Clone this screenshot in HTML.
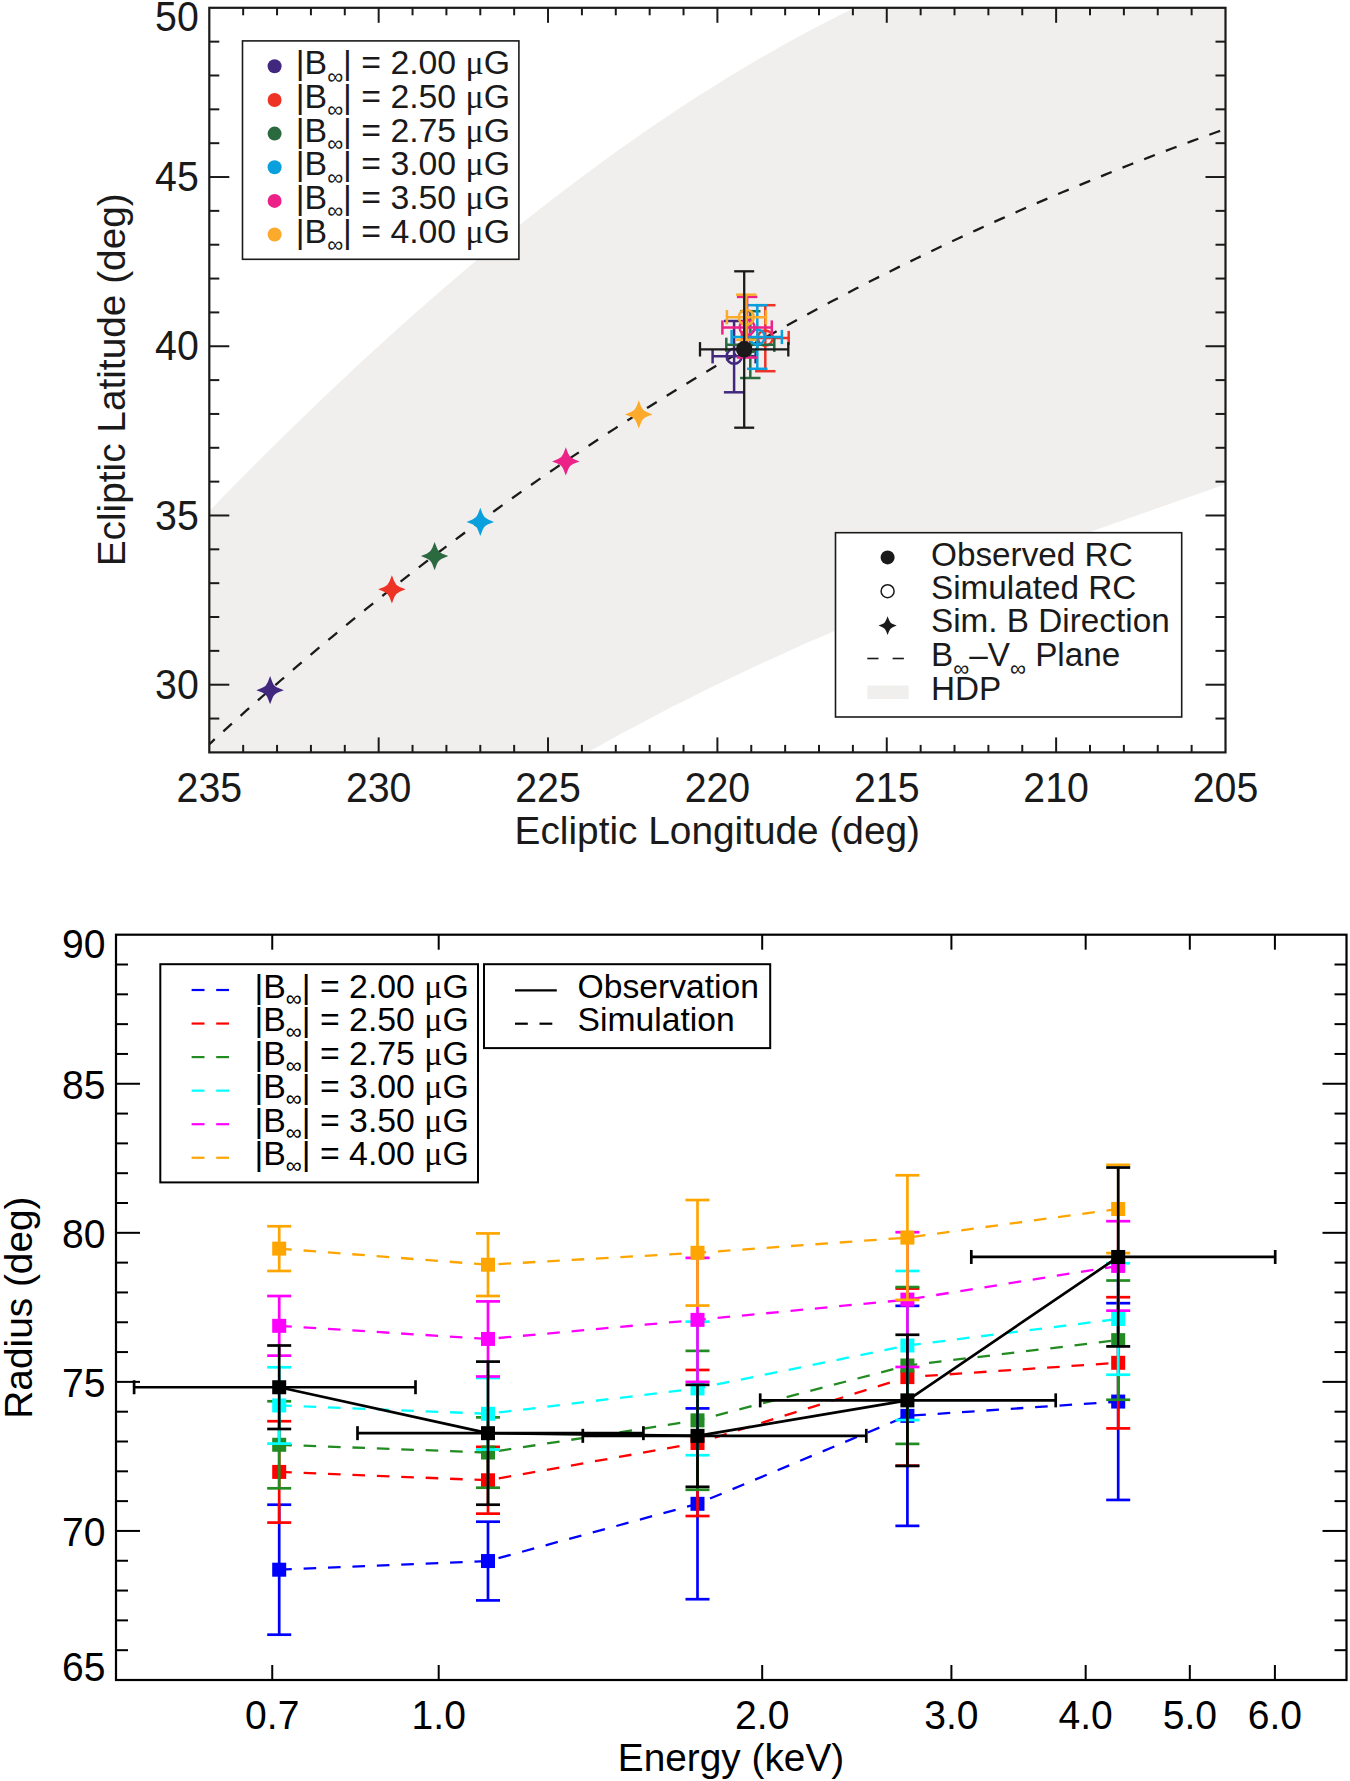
<!DOCTYPE html>
<html><head><meta charset="utf-8"><title>Figure</title>
<style>
html,body{margin:0;padding:0;background:#fff;}
svg{display:block;font-family:"Liberation Sans", sans-serif;}
</style></head><body>
<svg width="1350" height="1781" viewBox="0 0 1350 1781">
<rect width="1350" height="1781" fill="#fff"/>
<defs><clipPath id="c1"><rect x="209.3" y="7.8" width="1016.2" height="744.6"/></clipPath></defs><path d="M209.3,511.1 L221.0,499.0 L232.7,487.1 L244.4,475.2 L256.1,463.4 L267.8,451.8 L279.5,440.2 L291.2,428.7 L303.0,417.3 L314.7,406.0 L326.4,394.8 L338.1,383.7 L349.8,372.7 L361.5,361.8 L373.2,351.0 L384.9,340.4 L396.6,329.8 L408.3,319.3 L420.0,308.9 L431.7,298.7 L443.4,288.5 L455.1,278.4 L466.8,268.5 L478.6,258.7 L490.3,249.0 L502.0,239.4 L513.7,229.9 L525.4,220.5 L537.1,211.2 L548.8,202.1 L560.5,193.1 L572.2,184.2 L583.9,175.4 L595.6,166.7 L607.3,158.2 L619.0,149.7 L630.7,141.4 L642.5,133.3 L654.2,125.2 L665.9,117.3 L677.6,109.5 L689.3,101.8 L701.0,94.3 L712.7,86.9 L724.4,79.6 L736.1,72.5 L747.8,65.5 L759.5,58.6 L771.2,51.9 L782.9,45.3 L794.6,38.8 L806.3,32.5 L818.1,26.3 L829.8,20.2 L841.5,14.3 L853.2,8.6 L864.9,3.0 L876.6,-2.5 L888.3,-7.8 L900.0,-13.0 L1230.5,-20.0 L1230.5,482.4 L1219.1,486.4 L1207.8,490.4 L1196.4,494.4 L1185.0,498.4 L1173.7,502.4 L1162.3,506.4 L1150.9,510.4 L1139.6,514.4 L1128.2,518.4 L1116.9,522.4 L1105.5,526.5 L1094.1,530.5 L1082.8,534.6 L1071.4,538.7 L1060.0,542.8 L1048.7,547.0 L1037.3,551.1 L1025.9,555.3 L1014.6,559.5 L1003.2,563.7 L991.8,568.0 L980.5,572.3 L969.1,576.6 L957.8,581.0 L946.4,585.4 L935.0,589.8 L923.7,594.3 L912.3,598.8 L900.9,603.4 L889.6,608.0 L878.2,612.6 L866.8,617.3 L855.5,622.1 L844.1,626.9 L832.7,631.7 L821.4,636.7 L810.0,641.6 L798.7,646.6 L787.3,651.7 L775.9,656.9 L764.6,662.1 L753.2,667.3 L741.8,672.7 L730.5,678.1 L719.1,683.5 L707.7,689.1 L696.4,694.7 L685.0,700.4 L673.6,706.1 L662.3,712.0 L650.9,717.9 L639.6,723.9 L628.2,730.0 L616.8,736.1 L605.5,742.4 L594.1,748.7 L582.7,755.1 L571.4,761.6 L560.0,768.2 L209.3,782.4Z" fill="#f0efed" clip-path="url(#c1)"/><path d="M203.3,749.7 L211.9,741.8 L220.5,733.9 L229.1,726.1 L237.7,718.4 L246.2,710.7 L254.8,703.1 L263.4,695.5 L272.0,688.0 L280.6,680.5 L289.2,673.1 L297.8,665.7 L306.4,658.4 L315.0,651.1 L323.6,643.9 L332.1,636.8 L340.7,629.7 L349.3,622.6 L357.9,615.6 L366.5,608.7 L375.1,601.8 L383.7,594.9 L392.3,588.1 L400.9,581.4 L409.5,574.7 L418.0,568.0 L426.6,561.4 L435.2,554.8 L443.8,548.3 L452.4,541.9 L461.0,535.5 L469.6,529.1 L478.2,522.8 L486.8,516.5 L495.4,510.3 L503.9,504.1 L512.5,498.0 L521.1,491.9 L529.7,485.9 L538.3,479.9 L546.9,474.0 L555.5,468.1 L564.1,462.2 L572.7,456.4 L581.3,450.7 L589.8,445.0 L598.4,439.3 L607.0,433.7 L615.6,428.1 L624.2,422.5 L632.8,417.1 L641.4,411.6 L650.0,406.2 L658.6,400.8 L667.2,395.5 L675.7,390.2 L684.3,385.0 L692.9,379.8 L701.5,374.6 L710.1,369.5 L718.7,364.4 L727.3,359.4 L735.9,354.4 L744.5,349.5 L753.1,344.5 L761.6,339.7 L770.2,334.8 L778.8,330.0 L787.4,325.3 L796.0,320.6 L804.6,315.9 L813.2,311.2 L821.8,306.6 L830.4,302.1 L839.0,297.6 L847.5,293.1 L856.1,288.6 L864.7,284.2 L873.3,279.8 L881.9,275.5 L890.5,271.2 L899.1,266.9 L907.7,262.7 L916.3,258.5 L924.9,254.3 L933.4,250.2 L942.0,246.1 L950.6,242.0 L959.2,238.0 L967.8,234.0 L976.4,230.1 L985.0,226.1 L993.6,222.2 L1002.2,218.4 L1010.8,214.6 L1019.3,210.8 L1027.9,207.0 L1036.5,203.3 L1045.1,199.6 L1053.7,195.9 L1062.3,192.3 L1070.9,188.7 L1079.5,185.1 L1088.1,181.6 L1096.7,178.1 L1105.2,174.6 L1113.8,171.1 L1122.4,167.7 L1131.0,164.3 L1139.6,161.0 L1148.2,157.6 L1156.8,154.3 L1165.4,151.1 L1174.0,147.8 L1182.6,144.6 L1191.1,141.4 L1199.7,138.2 L1208.3,135.1 L1216.9,132.0 L1225.5,128.9" fill="none" stroke="#1a1a1a" stroke-width="2.3" stroke-dasharray="11.5 11.7" stroke-dashoffset="19.2" clip-path="url(#c1)"/><path d="M270.10,676.06 L272.43,682.22 Q273.98,686.32 277.92,687.87 L283.84,690.20 L277.92,692.53 Q273.98,694.08 272.43,698.18 L270.10,704.34 L267.77,698.18 Q266.22,694.08 262.28,692.53 L256.36,690.20 L262.28,687.87 Q266.22,686.32 267.77,682.22 L270.10,676.06Z" fill="#41287e"/><path d="M391.90,575.16 L394.23,581.32 Q395.78,585.42 399.72,586.97 L405.64,589.30 L399.72,591.63 Q395.78,593.18 394.23,597.28 L391.90,603.44 L389.57,597.28 Q388.02,593.18 384.08,591.63 L378.16,589.30 L384.08,586.97 Q388.02,585.42 389.57,581.32 L391.90,575.16Z" fill="#ee3226"/><path d="M434.60,541.96 L436.93,548.12 Q438.48,552.22 442.42,553.77 L448.34,556.10 L442.42,558.43 Q438.48,559.98 436.93,564.08 L434.60,570.24 L432.27,564.08 Q430.72,559.98 426.78,558.43 L420.86,556.10 L426.78,553.77 Q430.72,552.22 432.27,548.12 L434.60,541.96Z" fill="#2b6a3f"/><path d="M480.30,507.76 L482.63,513.92 Q484.18,518.02 488.12,519.57 L494.04,521.90 L488.12,524.23 Q484.18,525.78 482.63,529.88 L480.30,536.04 L477.97,529.88 Q476.42,525.78 472.48,524.23 L466.56,521.90 L472.48,519.57 Q476.42,518.02 477.97,513.92 L480.30,507.76Z" fill="#0a9fdd"/><path d="M565.80,447.26 L568.13,453.42 Q569.68,457.52 573.62,459.07 L579.54,461.40 L573.62,463.73 Q569.68,465.28 568.13,469.38 L565.80,475.54 L563.47,469.38 Q561.92,465.28 557.98,463.73 L552.06,461.40 L557.98,459.07 Q561.92,457.52 563.47,453.42 L565.80,447.26Z" fill="#ec2289"/><path d="M638.80,400.26 L641.13,406.42 Q642.68,410.52 646.62,412.07 L652.54,414.40 L646.62,416.73 Q642.68,418.28 641.13,422.38 L638.80,428.54 L636.47,422.38 Q634.92,418.28 630.98,416.73 L625.06,414.40 L630.98,412.07 Q634.92,410.52 636.47,406.42 L638.80,400.26Z" fill="#fcaa2b"/><line x1="712.60" y1="356.30" x2="755.60" y2="356.30" stroke="#41287e" stroke-width="2.5" /><line x1="712.60" y1="349.20" x2="712.60" y2="363.40" stroke="#41287e" stroke-width="2.5" /><line x1="755.60" y1="349.20" x2="755.60" y2="363.40" stroke="#41287e" stroke-width="2.5" /><line x1="734.10" y1="321.00" x2="734.10" y2="392.30" stroke="#41287e" stroke-width="2.5" /><line x1="723.90" y1="321.00" x2="744.30" y2="321.00" stroke="#41287e" stroke-width="2.5" /><line x1="723.90" y1="392.30" x2="744.30" y2="392.30" stroke="#41287e" stroke-width="2.5" /><circle cx="734.10" cy="356.30" r="7.5" fill="none" stroke="#41287e" stroke-width="2.5"/><line x1="741.90" y1="338.00" x2="788.70" y2="338.00" stroke="#ee3226" stroke-width="2.5" /><line x1="741.90" y1="330.90" x2="741.90" y2="345.10" stroke="#ee3226" stroke-width="2.5" /><line x1="788.70" y1="330.90" x2="788.70" y2="345.10" stroke="#ee3226" stroke-width="2.5" /><line x1="765.30" y1="305.20" x2="765.30" y2="371.20" stroke="#ee3226" stroke-width="2.5" /><line x1="755.10" y1="305.20" x2="775.50" y2="305.20" stroke="#ee3226" stroke-width="2.5" /><line x1="755.10" y1="371.20" x2="775.50" y2="371.20" stroke="#ee3226" stroke-width="2.5" /><circle cx="765.30" cy="338.00" r="7.5" fill="none" stroke="#ee3226" stroke-width="2.5"/><line x1="726.30" y1="344.80" x2="774.30" y2="344.80" stroke="#2b6a3f" stroke-width="2.5" /><line x1="726.30" y1="337.70" x2="726.30" y2="351.90" stroke="#2b6a3f" stroke-width="2.5" /><line x1="774.30" y1="337.70" x2="774.30" y2="351.90" stroke="#2b6a3f" stroke-width="2.5" /><line x1="750.30" y1="311.20" x2="750.30" y2="378.00" stroke="#2b6a3f" stroke-width="2.5" /><line x1="740.10" y1="311.20" x2="760.50" y2="311.20" stroke="#2b6a3f" stroke-width="2.5" /><line x1="740.10" y1="378.00" x2="760.50" y2="378.00" stroke="#2b6a3f" stroke-width="2.5" /><circle cx="750.30" cy="344.80" r="7.5" fill="none" stroke="#2b6a3f" stroke-width="2.5"/><line x1="731.60" y1="337.00" x2="781.90" y2="337.00" stroke="#0a9fdd" stroke-width="2.5" /><line x1="731.60" y1="329.90" x2="731.60" y2="344.10" stroke="#0a9fdd" stroke-width="2.5" /><line x1="781.90" y1="329.90" x2="781.90" y2="344.10" stroke="#0a9fdd" stroke-width="2.5" /><line x1="757.30" y1="305.20" x2="757.30" y2="368.80" stroke="#0a9fdd" stroke-width="2.5" /><line x1="747.10" y1="305.20" x2="767.50" y2="305.20" stroke="#0a9fdd" stroke-width="2.5" /><line x1="747.10" y1="368.80" x2="767.50" y2="368.80" stroke="#0a9fdd" stroke-width="2.5" /><circle cx="757.30" cy="337.00" r="7.5" fill="none" stroke="#0a9fdd" stroke-width="2.5"/><line x1="722.40" y1="327.50" x2="771.80" y2="327.50" stroke="#ec2289" stroke-width="2.5" /><line x1="722.40" y1="320.40" x2="722.40" y2="334.60" stroke="#ec2289" stroke-width="2.5" /><line x1="771.80" y1="320.40" x2="771.80" y2="334.60" stroke="#ec2289" stroke-width="2.5" /><line x1="747.10" y1="296.90" x2="747.10" y2="357.50" stroke="#ec2289" stroke-width="2.5" /><line x1="736.90" y1="296.90" x2="757.30" y2="296.90" stroke="#ec2289" stroke-width="2.5" /><line x1="736.90" y1="357.50" x2="757.30" y2="357.50" stroke="#ec2289" stroke-width="2.5" /><circle cx="747.10" cy="327.50" r="7.5" fill="none" stroke="#ec2289" stroke-width="2.5"/><line x1="726.90" y1="317.20" x2="765.90" y2="317.20" stroke="#fcaa2b" stroke-width="2.5" /><line x1="726.90" y1="310.10" x2="726.90" y2="324.30" stroke="#fcaa2b" stroke-width="2.5" /><line x1="765.90" y1="310.10" x2="765.90" y2="324.30" stroke="#fcaa2b" stroke-width="2.5" /><line x1="746.30" y1="294.70" x2="746.30" y2="339.80" stroke="#fcaa2b" stroke-width="2.5" /><line x1="736.10" y1="294.70" x2="756.50" y2="294.70" stroke="#fcaa2b" stroke-width="2.5" /><line x1="736.10" y1="339.80" x2="756.50" y2="339.80" stroke="#fcaa2b" stroke-width="2.5" /><circle cx="746.30" cy="317.20" r="7.5" fill="none" stroke="#fcaa2b" stroke-width="2.5"/><line x1="700.00" y1="349.30" x2="788.30" y2="349.30" stroke="#1a1a1a" stroke-width="2.3" /><line x1="700.00" y1="342.10" x2="700.00" y2="356.50" stroke="#1a1a1a" stroke-width="2.3" /><line x1="788.30" y1="342.10" x2="788.30" y2="356.50" stroke="#1a1a1a" stroke-width="2.3" /><line x1="744.20" y1="271.30" x2="744.20" y2="427.70" stroke="#1a1a1a" stroke-width="2.3" /><line x1="734.20" y1="271.30" x2="754.20" y2="271.30" stroke="#1a1a1a" stroke-width="2.3" /><line x1="734.20" y1="427.70" x2="754.20" y2="427.70" stroke="#1a1a1a" stroke-width="2.3" /><circle cx="744.2" cy="349.3" r="8.3" fill="#1a1a1a"/><rect x="209.3" y="7.8" width="1016.2" height="744.6" fill="none" stroke="#1a1a1a" stroke-width="2.2"/><line x1="209.30" y1="718.55" x2="219.30" y2="718.55" stroke="#1a1a1a" stroke-width="2" /><line x1="1225.50" y1="718.55" x2="1215.50" y2="718.55" stroke="#1a1a1a" stroke-width="2" /><line x1="209.30" y1="684.71" x2="229.30" y2="684.71" stroke="#1a1a1a" stroke-width="2" /><line x1="1225.50" y1="684.71" x2="1205.50" y2="684.71" stroke="#1a1a1a" stroke-width="2" /><line x1="209.30" y1="650.86" x2="219.30" y2="650.86" stroke="#1a1a1a" stroke-width="2" /><line x1="1225.50" y1="650.86" x2="1215.50" y2="650.86" stroke="#1a1a1a" stroke-width="2" /><line x1="209.30" y1="617.02" x2="219.30" y2="617.02" stroke="#1a1a1a" stroke-width="2" /><line x1="1225.50" y1="617.02" x2="1215.50" y2="617.02" stroke="#1a1a1a" stroke-width="2" /><line x1="209.30" y1="583.17" x2="219.30" y2="583.17" stroke="#1a1a1a" stroke-width="2" /><line x1="1225.50" y1="583.17" x2="1215.50" y2="583.17" stroke="#1a1a1a" stroke-width="2" /><line x1="209.30" y1="549.33" x2="219.30" y2="549.33" stroke="#1a1a1a" stroke-width="2" /><line x1="1225.50" y1="549.33" x2="1215.50" y2="549.33" stroke="#1a1a1a" stroke-width="2" /><line x1="209.30" y1="515.48" x2="229.30" y2="515.48" stroke="#1a1a1a" stroke-width="2" /><line x1="1225.50" y1="515.48" x2="1205.50" y2="515.48" stroke="#1a1a1a" stroke-width="2" /><line x1="209.30" y1="481.64" x2="219.30" y2="481.64" stroke="#1a1a1a" stroke-width="2" /><line x1="1225.50" y1="481.64" x2="1215.50" y2="481.64" stroke="#1a1a1a" stroke-width="2" /><line x1="209.30" y1="447.79" x2="219.30" y2="447.79" stroke="#1a1a1a" stroke-width="2" /><line x1="1225.50" y1="447.79" x2="1215.50" y2="447.79" stroke="#1a1a1a" stroke-width="2" /><line x1="209.30" y1="413.95" x2="219.30" y2="413.95" stroke="#1a1a1a" stroke-width="2" /><line x1="1225.50" y1="413.95" x2="1215.50" y2="413.95" stroke="#1a1a1a" stroke-width="2" /><line x1="209.30" y1="380.10" x2="219.30" y2="380.10" stroke="#1a1a1a" stroke-width="2" /><line x1="1225.50" y1="380.10" x2="1215.50" y2="380.10" stroke="#1a1a1a" stroke-width="2" /><line x1="209.30" y1="346.25" x2="229.30" y2="346.25" stroke="#1a1a1a" stroke-width="2" /><line x1="1225.50" y1="346.25" x2="1205.50" y2="346.25" stroke="#1a1a1a" stroke-width="2" /><line x1="209.30" y1="312.41" x2="219.30" y2="312.41" stroke="#1a1a1a" stroke-width="2" /><line x1="1225.50" y1="312.41" x2="1215.50" y2="312.41" stroke="#1a1a1a" stroke-width="2" /><line x1="209.30" y1="278.56" x2="219.30" y2="278.56" stroke="#1a1a1a" stroke-width="2" /><line x1="1225.50" y1="278.56" x2="1215.50" y2="278.56" stroke="#1a1a1a" stroke-width="2" /><line x1="209.30" y1="244.72" x2="219.30" y2="244.72" stroke="#1a1a1a" stroke-width="2" /><line x1="1225.50" y1="244.72" x2="1215.50" y2="244.72" stroke="#1a1a1a" stroke-width="2" /><line x1="209.30" y1="210.87" x2="219.30" y2="210.87" stroke="#1a1a1a" stroke-width="2" /><line x1="1225.50" y1="210.87" x2="1215.50" y2="210.87" stroke="#1a1a1a" stroke-width="2" /><line x1="209.30" y1="177.03" x2="229.30" y2="177.03" stroke="#1a1a1a" stroke-width="2" /><line x1="1225.50" y1="177.03" x2="1205.50" y2="177.03" stroke="#1a1a1a" stroke-width="2" /><line x1="209.30" y1="143.18" x2="219.30" y2="143.18" stroke="#1a1a1a" stroke-width="2" /><line x1="1225.50" y1="143.18" x2="1215.50" y2="143.18" stroke="#1a1a1a" stroke-width="2" /><line x1="209.30" y1="109.34" x2="219.30" y2="109.34" stroke="#1a1a1a" stroke-width="2" /><line x1="1225.50" y1="109.34" x2="1215.50" y2="109.34" stroke="#1a1a1a" stroke-width="2" /><line x1="209.30" y1="75.49" x2="219.30" y2="75.49" stroke="#1a1a1a" stroke-width="2" /><line x1="1225.50" y1="75.49" x2="1215.50" y2="75.49" stroke="#1a1a1a" stroke-width="2" /><line x1="209.30" y1="41.65" x2="219.30" y2="41.65" stroke="#1a1a1a" stroke-width="2" /><line x1="1225.50" y1="41.65" x2="1215.50" y2="41.65" stroke="#1a1a1a" stroke-width="2" /><line x1="1191.63" y1="7.80" x2="1191.63" y2="15.30" stroke="#1a1a1a" stroke-width="2" /><line x1="1191.63" y1="752.40" x2="1191.63" y2="744.90" stroke="#1a1a1a" stroke-width="2" /><line x1="1157.75" y1="7.80" x2="1157.75" y2="15.30" stroke="#1a1a1a" stroke-width="2" /><line x1="1157.75" y1="752.40" x2="1157.75" y2="744.90" stroke="#1a1a1a" stroke-width="2" /><line x1="1123.88" y1="7.80" x2="1123.88" y2="15.30" stroke="#1a1a1a" stroke-width="2" /><line x1="1123.88" y1="752.40" x2="1123.88" y2="744.90" stroke="#1a1a1a" stroke-width="2" /><line x1="1090.01" y1="7.80" x2="1090.01" y2="15.30" stroke="#1a1a1a" stroke-width="2" /><line x1="1090.01" y1="752.40" x2="1090.01" y2="744.90" stroke="#1a1a1a" stroke-width="2" /><line x1="1056.13" y1="7.80" x2="1056.13" y2="22.80" stroke="#1a1a1a" stroke-width="2" /><line x1="1056.13" y1="752.40" x2="1056.13" y2="737.40" stroke="#1a1a1a" stroke-width="2" /><line x1="1022.26" y1="7.80" x2="1022.26" y2="15.30" stroke="#1a1a1a" stroke-width="2" /><line x1="1022.26" y1="752.40" x2="1022.26" y2="744.90" stroke="#1a1a1a" stroke-width="2" /><line x1="988.39" y1="7.80" x2="988.39" y2="15.30" stroke="#1a1a1a" stroke-width="2" /><line x1="988.39" y1="752.40" x2="988.39" y2="744.90" stroke="#1a1a1a" stroke-width="2" /><line x1="954.51" y1="7.80" x2="954.51" y2="15.30" stroke="#1a1a1a" stroke-width="2" /><line x1="954.51" y1="752.40" x2="954.51" y2="744.90" stroke="#1a1a1a" stroke-width="2" /><line x1="920.64" y1="7.80" x2="920.64" y2="15.30" stroke="#1a1a1a" stroke-width="2" /><line x1="920.64" y1="752.40" x2="920.64" y2="744.90" stroke="#1a1a1a" stroke-width="2" /><line x1="886.77" y1="7.80" x2="886.77" y2="22.80" stroke="#1a1a1a" stroke-width="2" /><line x1="886.77" y1="752.40" x2="886.77" y2="737.40" stroke="#1a1a1a" stroke-width="2" /><line x1="852.89" y1="7.80" x2="852.89" y2="15.30" stroke="#1a1a1a" stroke-width="2" /><line x1="852.89" y1="752.40" x2="852.89" y2="744.90" stroke="#1a1a1a" stroke-width="2" /><line x1="819.02" y1="7.80" x2="819.02" y2="15.30" stroke="#1a1a1a" stroke-width="2" /><line x1="819.02" y1="752.40" x2="819.02" y2="744.90" stroke="#1a1a1a" stroke-width="2" /><line x1="785.15" y1="7.80" x2="785.15" y2="15.30" stroke="#1a1a1a" stroke-width="2" /><line x1="785.15" y1="752.40" x2="785.15" y2="744.90" stroke="#1a1a1a" stroke-width="2" /><line x1="751.27" y1="7.80" x2="751.27" y2="15.30" stroke="#1a1a1a" stroke-width="2" /><line x1="751.27" y1="752.40" x2="751.27" y2="744.90" stroke="#1a1a1a" stroke-width="2" /><line x1="717.40" y1="7.80" x2="717.40" y2="22.80" stroke="#1a1a1a" stroke-width="2" /><line x1="717.40" y1="752.40" x2="717.40" y2="737.40" stroke="#1a1a1a" stroke-width="2" /><line x1="683.53" y1="7.80" x2="683.53" y2="15.30" stroke="#1a1a1a" stroke-width="2" /><line x1="683.53" y1="752.40" x2="683.53" y2="744.90" stroke="#1a1a1a" stroke-width="2" /><line x1="649.65" y1="7.80" x2="649.65" y2="15.30" stroke="#1a1a1a" stroke-width="2" /><line x1="649.65" y1="752.40" x2="649.65" y2="744.90" stroke="#1a1a1a" stroke-width="2" /><line x1="615.78" y1="7.80" x2="615.78" y2="15.30" stroke="#1a1a1a" stroke-width="2" /><line x1="615.78" y1="752.40" x2="615.78" y2="744.90" stroke="#1a1a1a" stroke-width="2" /><line x1="581.91" y1="7.80" x2="581.91" y2="15.30" stroke="#1a1a1a" stroke-width="2" /><line x1="581.91" y1="752.40" x2="581.91" y2="744.90" stroke="#1a1a1a" stroke-width="2" /><line x1="548.03" y1="7.80" x2="548.03" y2="22.80" stroke="#1a1a1a" stroke-width="2" /><line x1="548.03" y1="752.40" x2="548.03" y2="737.40" stroke="#1a1a1a" stroke-width="2" /><line x1="514.16" y1="7.80" x2="514.16" y2="15.30" stroke="#1a1a1a" stroke-width="2" /><line x1="514.16" y1="752.40" x2="514.16" y2="744.90" stroke="#1a1a1a" stroke-width="2" /><line x1="480.29" y1="7.80" x2="480.29" y2="15.30" stroke="#1a1a1a" stroke-width="2" /><line x1="480.29" y1="752.40" x2="480.29" y2="744.90" stroke="#1a1a1a" stroke-width="2" /><line x1="446.41" y1="7.80" x2="446.41" y2="15.30" stroke="#1a1a1a" stroke-width="2" /><line x1="446.41" y1="752.40" x2="446.41" y2="744.90" stroke="#1a1a1a" stroke-width="2" /><line x1="412.54" y1="7.80" x2="412.54" y2="15.30" stroke="#1a1a1a" stroke-width="2" /><line x1="412.54" y1="752.40" x2="412.54" y2="744.90" stroke="#1a1a1a" stroke-width="2" /><line x1="378.67" y1="7.80" x2="378.67" y2="22.80" stroke="#1a1a1a" stroke-width="2" /><line x1="378.67" y1="752.40" x2="378.67" y2="737.40" stroke="#1a1a1a" stroke-width="2" /><line x1="344.79" y1="7.80" x2="344.79" y2="15.30" stroke="#1a1a1a" stroke-width="2" /><line x1="344.79" y1="752.40" x2="344.79" y2="744.90" stroke="#1a1a1a" stroke-width="2" /><line x1="310.92" y1="7.80" x2="310.92" y2="15.30" stroke="#1a1a1a" stroke-width="2" /><line x1="310.92" y1="752.40" x2="310.92" y2="744.90" stroke="#1a1a1a" stroke-width="2" /><line x1="277.05" y1="7.80" x2="277.05" y2="15.30" stroke="#1a1a1a" stroke-width="2" /><line x1="277.05" y1="752.40" x2="277.05" y2="744.90" stroke="#1a1a1a" stroke-width="2" /><line x1="243.17" y1="7.80" x2="243.17" y2="15.30" stroke="#1a1a1a" stroke-width="2" /><line x1="243.17" y1="752.40" x2="243.17" y2="744.90" stroke="#1a1a1a" stroke-width="2" /><text transform="translate(198.80,698.81) scale(0.94,1)" font-size="41.8" text-anchor="end" fill="#1a1a1a" >30</text><text transform="translate(198.80,529.58) scale(0.94,1)" font-size="41.8" text-anchor="end" fill="#1a1a1a" >35</text><text transform="translate(198.80,360.35) scale(0.94,1)" font-size="41.8" text-anchor="end" fill="#1a1a1a" >40</text><text transform="translate(198.80,191.13) scale(0.94,1)" font-size="41.8" text-anchor="end" fill="#1a1a1a" >45</text><text transform="translate(198.80,30.90) scale(0.94,1)" font-size="41.8" text-anchor="end" fill="#1a1a1a" >50</text><text transform="translate(1225.50,802.00) scale(0.94,1)" font-size="41.8" text-anchor="middle" fill="#1a1a1a" >205</text><text transform="translate(1056.13,802.00) scale(0.94,1)" font-size="41.8" text-anchor="middle" fill="#1a1a1a" >210</text><text transform="translate(886.77,802.00) scale(0.94,1)" font-size="41.8" text-anchor="middle" fill="#1a1a1a" >215</text><text transform="translate(717.40,802.00) scale(0.94,1)" font-size="41.8" text-anchor="middle" fill="#1a1a1a" >220</text><text transform="translate(548.03,802.00) scale(0.94,1)" font-size="41.8" text-anchor="middle" fill="#1a1a1a" >225</text><text transform="translate(378.67,802.00) scale(0.94,1)" font-size="41.8" text-anchor="middle" fill="#1a1a1a" >230</text><text transform="translate(209.30,802.00) scale(0.94,1)" font-size="41.8" text-anchor="middle" fill="#1a1a1a" >235</text><text transform="translate(717.30,844.20)" font-size="38.8" text-anchor="middle" fill="#1a1a1a" >Ecliptic Longitude (deg)</text><text transform="translate(125.00,379.80) rotate(-90)" font-size="38.8" text-anchor="middle" fill="#1a1a1a" >Ecliptic Latitude (deg)</text><rect x="242.5" y="40.9" width="276.4" height="218.4" fill="#fff" stroke="#1a1a1a" stroke-width="1.6"/><circle cx="274.6" cy="66.30" r="7" fill="#41287e"/><text x="295.80" y="74.30" font-size="33.8" fill="#1a1a1a">|B<tspan font-size="22.4" dy="9.4">∞</tspan><tspan dy="-9.4">| = 2.00 <tspan font-family="Liberation Serif, serif">μ</tspan>G</tspan></text><circle cx="274.6" cy="99.95" r="7" fill="#ee3226"/><text x="295.80" y="107.95" font-size="33.8" fill="#1a1a1a">|B<tspan font-size="22.4" dy="9.4">∞</tspan><tspan dy="-9.4">| = 2.50 <tspan font-family="Liberation Serif, serif">μ</tspan>G</tspan></text><circle cx="274.6" cy="133.60" r="7" fill="#2b6a3f"/><text x="295.80" y="141.60" font-size="33.8" fill="#1a1a1a">|B<tspan font-size="22.4" dy="9.4">∞</tspan><tspan dy="-9.4">| = 2.75 <tspan font-family="Liberation Serif, serif">μ</tspan>G</tspan></text><circle cx="274.6" cy="167.25" r="7" fill="#0a9fdd"/><text x="295.80" y="175.25" font-size="33.8" fill="#1a1a1a">|B<tspan font-size="22.4" dy="9.4">∞</tspan><tspan dy="-9.4">| = 3.00 <tspan font-family="Liberation Serif, serif">μ</tspan>G</tspan></text><circle cx="274.6" cy="200.90" r="7" fill="#ec2289"/><text x="295.80" y="208.90" font-size="33.8" fill="#1a1a1a">|B<tspan font-size="22.4" dy="9.4">∞</tspan><tspan dy="-9.4">| = 3.50 <tspan font-family="Liberation Serif, serif">μ</tspan>G</tspan></text><circle cx="274.6" cy="234.55" r="7" fill="#fcaa2b"/><text x="295.80" y="242.55" font-size="33.8" fill="#1a1a1a">|B<tspan font-size="22.4" dy="9.4">∞</tspan><tspan dy="-9.4">| = 4.00 <tspan font-family="Liberation Serif, serif">μ</tspan>G</tspan></text><rect x="835.5" y="532.7" width="346.20000000000005" height="184.29999999999995" fill="#fff" stroke="#1a1a1a" stroke-width="1.6"/><circle cx="887.6" cy="557.4" r="7" fill="#1a1a1a"/><circle cx="887.6" cy="591.2" r="6.5" fill="#fff" stroke="#1a1a1a" stroke-width="1.5"/><path d="M887.60,616.24 L889.14,620.32 Q890.17,623.03 892.77,624.06 L896.69,625.60 L892.77,627.14 Q890.17,628.17 889.14,630.88 L887.60,634.96 L886.06,630.88 Q885.03,628.17 882.43,627.14 L878.51,625.60 L882.43,624.06 Q885.03,623.03 886.06,620.32 L887.60,616.24Z" fill="#1a1a1a"/><line x1="867.30" y1="658.50" x2="878.50" y2="658.50" stroke="#1a1a1a" stroke-width="1.6" /><line x1="892.60" y1="658.50" x2="903.90" y2="658.50" stroke="#1a1a1a" stroke-width="1.6" /><rect x="867.3" y="685.5" width="41.4" height="13.5" fill="#f0efed"/><text transform="translate(931.00,565.60)" font-size="33.3" text-anchor="start" fill="#1a1a1a" >Observed RC</text><text transform="translate(931.00,598.80)" font-size="33.3" text-anchor="start" fill="#1a1a1a" >Simulated RC</text><text transform="translate(931.00,632.00)" font-size="33.3" text-anchor="start" fill="#1a1a1a" >Sim. B Direction</text><text x="931.0" y="666.4" font-size="33.3" fill="#1a1a1a">B<tspan font-size="22.4" dy="9.4">∞</tspan><tspan dy="-9.4">–V</tspan><tspan font-size="22.4" dy="9.4">∞</tspan><tspan dy="-9.4"> Plane</tspan></text><text transform="translate(931.00,700.20)" font-size="33.3" text-anchor="start" fill="#1a1a1a" >HDP</text><path d="M279.20,1569.70 L488.00,1561.05 L697.50,1503.81 L907.40,1415.87 L1118.20,1401.56" fill="none" stroke="#0000ff" stroke-width="2.3" stroke-dasharray="12.6 11.83"/><line x1="279.20" y1="1504.71" x2="279.20" y2="1634.69" stroke="#0000ff" stroke-width="2.7" /><line x1="267.20" y1="1504.71" x2="291.20" y2="1504.71" stroke="#0000ff" stroke-width="2.7" /><line x1="267.20" y1="1634.69" x2="291.20" y2="1634.69" stroke="#0000ff" stroke-width="2.7" /><rect x="272.20" y="1562.70" width="14.0" height="14.0" fill="#0000ff"/><line x1="488.00" y1="1521.70" x2="488.00" y2="1600.40" stroke="#0000ff" stroke-width="2.7" /><line x1="476.00" y1="1521.70" x2="500.00" y2="1521.70" stroke="#0000ff" stroke-width="2.7" /><line x1="476.00" y1="1600.40" x2="500.00" y2="1600.40" stroke="#0000ff" stroke-width="2.7" /><rect x="481.00" y="1554.05" width="14.0" height="14.0" fill="#0000ff"/><line x1="697.50" y1="1408.41" x2="697.50" y2="1599.21" stroke="#0000ff" stroke-width="2.7" /><line x1="685.50" y1="1408.41" x2="709.50" y2="1408.41" stroke="#0000ff" stroke-width="2.7" /><line x1="685.50" y1="1599.21" x2="709.50" y2="1599.21" stroke="#0000ff" stroke-width="2.7" /><rect x="690.50" y="1496.81" width="14.0" height="14.0" fill="#0000ff"/><line x1="907.40" y1="1305.86" x2="907.40" y2="1525.87" stroke="#0000ff" stroke-width="2.7" /><line x1="895.40" y1="1305.86" x2="919.40" y2="1305.86" stroke="#0000ff" stroke-width="2.7" /><line x1="895.40" y1="1525.87" x2="919.40" y2="1525.87" stroke="#0000ff" stroke-width="2.7" /><rect x="900.40" y="1408.87" width="14.0" height="14.0" fill="#0000ff"/><line x1="1118.20" y1="1303.18" x2="1118.20" y2="1499.94" stroke="#0000ff" stroke-width="2.7" /><line x1="1106.20" y1="1303.18" x2="1130.20" y2="1303.18" stroke="#0000ff" stroke-width="2.7" /><line x1="1106.20" y1="1499.94" x2="1130.20" y2="1499.94" stroke="#0000ff" stroke-width="2.7" /><rect x="1111.20" y="1394.56" width="14.0" height="14.0" fill="#0000ff"/><path d="M279.20,1471.91 L488.00,1480.26 L697.50,1442.99 L907.40,1377.11 L1118.20,1362.80" fill="none" stroke="#ff0000" stroke-width="2.3" stroke-dasharray="12.6 11.83"/><line x1="279.20" y1="1421.23" x2="279.20" y2="1522.59" stroke="#ff0000" stroke-width="2.7" /><line x1="267.20" y1="1421.23" x2="291.20" y2="1421.23" stroke="#ff0000" stroke-width="2.7" /><line x1="267.20" y1="1522.59" x2="291.20" y2="1522.59" stroke="#ff0000" stroke-width="2.7" /><rect x="272.20" y="1464.91" width="14.0" height="14.0" fill="#ff0000"/><line x1="488.00" y1="1446.87" x2="488.00" y2="1513.65" stroke="#ff0000" stroke-width="2.7" /><line x1="476.00" y1="1446.87" x2="500.00" y2="1446.87" stroke="#ff0000" stroke-width="2.7" /><line x1="476.00" y1="1513.65" x2="500.00" y2="1513.65" stroke="#ff0000" stroke-width="2.7" /><rect x="481.00" y="1473.26" width="14.0" height="14.0" fill="#ff0000"/><line x1="697.50" y1="1369.96" x2="697.50" y2="1516.03" stroke="#ff0000" stroke-width="2.7" /><line x1="685.50" y1="1369.96" x2="709.50" y2="1369.96" stroke="#ff0000" stroke-width="2.7" /><line x1="685.50" y1="1516.03" x2="709.50" y2="1516.03" stroke="#ff0000" stroke-width="2.7" /><rect x="690.50" y="1435.99" width="14.0" height="14.0" fill="#ff0000"/><line x1="907.40" y1="1288.57" x2="907.40" y2="1465.65" stroke="#ff0000" stroke-width="2.7" /><line x1="895.40" y1="1288.57" x2="919.40" y2="1288.57" stroke="#ff0000" stroke-width="2.7" /><line x1="895.40" y1="1465.65" x2="919.40" y2="1465.65" stroke="#ff0000" stroke-width="2.7" /><rect x="900.40" y="1370.11" width="14.0" height="14.0" fill="#ff0000"/><line x1="1118.20" y1="1297.21" x2="1118.20" y2="1428.39" stroke="#ff0000" stroke-width="2.7" /><line x1="1106.20" y1="1297.21" x2="1130.20" y2="1297.21" stroke="#ff0000" stroke-width="2.7" /><line x1="1106.20" y1="1428.39" x2="1130.20" y2="1428.39" stroke="#ff0000" stroke-width="2.7" /><rect x="1111.20" y="1355.80" width="14.0" height="14.0" fill="#ff0000"/><path d="M279.20,1444.78 L488.00,1452.53 L697.50,1420.34 L907.40,1365.48 L1118.20,1340.14" fill="none" stroke="#228b22" stroke-width="2.3" stroke-dasharray="12.6 11.83"/><line x1="279.20" y1="1401.26" x2="279.20" y2="1488.31" stroke="#228b22" stroke-width="2.7" /><line x1="267.20" y1="1401.26" x2="291.20" y2="1401.26" stroke="#228b22" stroke-width="2.7" /><line x1="267.20" y1="1488.31" x2="291.20" y2="1488.31" stroke="#228b22" stroke-width="2.7" /><rect x="272.20" y="1437.78" width="14.0" height="14.0" fill="#228b22"/><line x1="488.00" y1="1417.36" x2="488.00" y2="1487.71" stroke="#228b22" stroke-width="2.7" /><line x1="476.00" y1="1417.36" x2="500.00" y2="1417.36" stroke="#228b22" stroke-width="2.7" /><line x1="476.00" y1="1487.71" x2="500.00" y2="1487.71" stroke="#228b22" stroke-width="2.7" /><rect x="481.00" y="1445.53" width="14.0" height="14.0" fill="#228b22"/><line x1="697.50" y1="1350.88" x2="697.50" y2="1489.80" stroke="#228b22" stroke-width="2.7" /><line x1="685.50" y1="1350.88" x2="709.50" y2="1350.88" stroke="#228b22" stroke-width="2.7" /><line x1="685.50" y1="1489.80" x2="709.50" y2="1489.80" stroke="#228b22" stroke-width="2.7" /><rect x="690.50" y="1413.34" width="14.0" height="14.0" fill="#228b22"/><line x1="907.40" y1="1287.08" x2="907.40" y2="1443.89" stroke="#228b22" stroke-width="2.7" /><line x1="895.40" y1="1287.08" x2="919.40" y2="1287.08" stroke="#228b22" stroke-width="2.7" /><line x1="895.40" y1="1443.89" x2="919.40" y2="1443.89" stroke="#228b22" stroke-width="2.7" /><rect x="900.40" y="1358.48" width="14.0" height="14.0" fill="#228b22"/><line x1="1118.20" y1="1280.52" x2="1118.20" y2="1399.77" stroke="#228b22" stroke-width="2.7" /><line x1="1106.20" y1="1280.52" x2="1130.20" y2="1280.52" stroke="#228b22" stroke-width="2.7" /><line x1="1106.20" y1="1399.77" x2="1130.20" y2="1399.77" stroke="#228b22" stroke-width="2.7" /><rect x="1111.20" y="1333.14" width="14.0" height="14.0" fill="#228b22"/><path d="M279.20,1405.43 L488.00,1413.78 L697.50,1388.44 L907.40,1345.51 L1118.20,1318.98" fill="none" stroke="#00ffff" stroke-width="2.3" stroke-dasharray="12.6 11.83"/><line x1="279.20" y1="1367.27" x2="279.20" y2="1443.59" stroke="#00ffff" stroke-width="2.7" /><line x1="267.20" y1="1367.27" x2="291.20" y2="1367.27" stroke="#00ffff" stroke-width="2.7" /><line x1="267.20" y1="1443.59" x2="291.20" y2="1443.59" stroke="#00ffff" stroke-width="2.7" /><rect x="272.20" y="1398.43" width="14.0" height="14.0" fill="#00ffff"/><line x1="488.00" y1="1378.00" x2="488.00" y2="1449.55" stroke="#00ffff" stroke-width="2.7" /><line x1="476.00" y1="1378.00" x2="500.00" y2="1378.00" stroke="#00ffff" stroke-width="2.7" /><line x1="476.00" y1="1449.55" x2="500.00" y2="1449.55" stroke="#00ffff" stroke-width="2.7" /><rect x="481.00" y="1406.78" width="14.0" height="14.0" fill="#00ffff"/><line x1="697.50" y1="1321.66" x2="697.50" y2="1455.22" stroke="#00ffff" stroke-width="2.7" /><line x1="685.50" y1="1321.66" x2="709.50" y2="1321.66" stroke="#00ffff" stroke-width="2.7" /><line x1="685.50" y1="1455.22" x2="709.50" y2="1455.22" stroke="#00ffff" stroke-width="2.7" /><rect x="690.50" y="1381.44" width="14.0" height="14.0" fill="#00ffff"/><line x1="907.40" y1="1270.98" x2="907.40" y2="1420.04" stroke="#00ffff" stroke-width="2.7" /><line x1="895.40" y1="1270.98" x2="919.40" y2="1270.98" stroke="#00ffff" stroke-width="2.7" /><line x1="895.40" y1="1420.04" x2="919.40" y2="1420.04" stroke="#00ffff" stroke-width="2.7" /><rect x="900.40" y="1338.51" width="14.0" height="14.0" fill="#00ffff"/><line x1="1118.20" y1="1263.23" x2="1118.20" y2="1374.73" stroke="#00ffff" stroke-width="2.7" /><line x1="1106.20" y1="1263.23" x2="1130.20" y2="1263.23" stroke="#00ffff" stroke-width="2.7" /><line x1="1106.20" y1="1374.73" x2="1130.20" y2="1374.73" stroke="#00ffff" stroke-width="2.7" /><rect x="1111.20" y="1311.98" width="14.0" height="14.0" fill="#00ffff"/><path d="M279.20,1325.83 L488.00,1338.95 L697.50,1319.87 L907.40,1299.60 L1118.20,1265.91" fill="none" stroke="#ff00ff" stroke-width="2.3" stroke-dasharray="12.6 11.83"/><line x1="279.20" y1="1296.02" x2="279.20" y2="1355.65" stroke="#ff00ff" stroke-width="2.7" /><line x1="267.20" y1="1296.02" x2="291.20" y2="1296.02" stroke="#ff00ff" stroke-width="2.7" /><line x1="267.20" y1="1355.65" x2="291.20" y2="1355.65" stroke="#ff00ff" stroke-width="2.7" /><rect x="272.20" y="1318.83" width="14.0" height="14.0" fill="#ff00ff"/><line x1="488.00" y1="1301.39" x2="488.00" y2="1376.51" stroke="#ff00ff" stroke-width="2.7" /><line x1="476.00" y1="1301.39" x2="500.00" y2="1301.39" stroke="#ff00ff" stroke-width="2.7" /><line x1="476.00" y1="1376.51" x2="500.00" y2="1376.51" stroke="#ff00ff" stroke-width="2.7" /><rect x="481.00" y="1331.95" width="14.0" height="14.0" fill="#ff00ff"/><line x1="697.50" y1="1257.86" x2="697.50" y2="1381.88" stroke="#ff00ff" stroke-width="2.7" /><line x1="685.50" y1="1257.86" x2="709.50" y2="1257.86" stroke="#ff00ff" stroke-width="2.7" /><line x1="685.50" y1="1381.88" x2="709.50" y2="1381.88" stroke="#ff00ff" stroke-width="2.7" /><rect x="690.50" y="1312.87" width="14.0" height="14.0" fill="#ff00ff"/><line x1="907.40" y1="1232.22" x2="907.40" y2="1366.97" stroke="#ff00ff" stroke-width="2.7" /><line x1="895.40" y1="1232.22" x2="919.40" y2="1232.22" stroke="#ff00ff" stroke-width="2.7" /><line x1="895.40" y1="1366.97" x2="919.40" y2="1366.97" stroke="#ff00ff" stroke-width="2.7" /><rect x="900.40" y="1292.60" width="14.0" height="14.0" fill="#ff00ff"/><line x1="1118.20" y1="1221.19" x2="1118.20" y2="1310.63" stroke="#ff00ff" stroke-width="2.7" /><line x1="1106.20" y1="1221.19" x2="1130.20" y2="1221.19" stroke="#ff00ff" stroke-width="2.7" /><line x1="1106.20" y1="1310.63" x2="1130.20" y2="1310.63" stroke="#ff00ff" stroke-width="2.7" /><rect x="1111.20" y="1258.91" width="14.0" height="14.0" fill="#ff00ff"/><path d="M279.20,1248.62 L488.00,1264.72 L697.50,1252.79 L907.40,1237.59 L1118.20,1208.97" fill="none" stroke="#ffa500" stroke-width="2.3" stroke-dasharray="12.6 11.83"/><line x1="279.20" y1="1226.26" x2="279.20" y2="1270.98" stroke="#ffa500" stroke-width="2.7" /><line x1="267.20" y1="1226.26" x2="291.20" y2="1226.26" stroke="#ffa500" stroke-width="2.7" /><line x1="267.20" y1="1270.98" x2="291.20" y2="1270.98" stroke="#ffa500" stroke-width="2.7" /><rect x="272.20" y="1241.62" width="14.0" height="14.0" fill="#ffa500"/><line x1="488.00" y1="1233.42" x2="488.00" y2="1296.02" stroke="#ffa500" stroke-width="2.7" /><line x1="476.00" y1="1233.42" x2="500.00" y2="1233.42" stroke="#ffa500" stroke-width="2.7" /><line x1="476.00" y1="1296.02" x2="500.00" y2="1296.02" stroke="#ffa500" stroke-width="2.7" /><rect x="481.00" y="1257.72" width="14.0" height="14.0" fill="#ffa500"/><line x1="697.50" y1="1200.03" x2="697.50" y2="1305.56" stroke="#ffa500" stroke-width="2.7" /><line x1="685.50" y1="1200.03" x2="709.50" y2="1200.03" stroke="#ffa500" stroke-width="2.7" /><line x1="685.50" y1="1305.56" x2="709.50" y2="1305.56" stroke="#ffa500" stroke-width="2.7" /><rect x="690.50" y="1245.79" width="14.0" height="14.0" fill="#ffa500"/><line x1="907.40" y1="1175.28" x2="907.40" y2="1299.90" stroke="#ffa500" stroke-width="2.7" /><line x1="895.40" y1="1175.28" x2="919.40" y2="1175.28" stroke="#ffa500" stroke-width="2.7" /><line x1="895.40" y1="1299.90" x2="919.40" y2="1299.90" stroke="#ffa500" stroke-width="2.7" /><rect x="900.40" y="1230.59" width="14.0" height="14.0" fill="#ffa500"/><line x1="1118.20" y1="1164.85" x2="1118.20" y2="1253.09" stroke="#ffa500" stroke-width="2.7" /><line x1="1106.20" y1="1164.85" x2="1130.20" y2="1164.85" stroke="#ffa500" stroke-width="2.7" /><line x1="1106.20" y1="1253.09" x2="1130.20" y2="1253.09" stroke="#ffa500" stroke-width="2.7" /><rect x="1111.20" y="1201.97" width="14.0" height="14.0" fill="#ffa500"/><path d="M279.20,1387.25 L488.00,1433.16 L697.50,1435.84 L907.40,1400.36 L1118.20,1256.97" fill="none" stroke="#000" stroke-width="2.7" stroke-linejoin="round"/><line x1="279.20" y1="1345.51" x2="279.20" y2="1428.98" stroke="#000" stroke-width="2.7" /><line x1="267.20" y1="1345.51" x2="291.20" y2="1345.51" stroke="#000" stroke-width="2.7" /><line x1="267.20" y1="1428.98" x2="291.20" y2="1428.98" stroke="#000" stroke-width="2.7" /><line x1="134.10" y1="1387.25" x2="415.50" y2="1387.25" stroke="#000" stroke-width="2.7" /><line x1="134.10" y1="1380.25" x2="134.10" y2="1394.25" stroke="#000" stroke-width="2.7" /><line x1="415.50" y1="1380.25" x2="415.50" y2="1394.25" stroke="#000" stroke-width="2.7" /><rect x="272.20" y="1380.25" width="14.0" height="14.0" fill="#000"/><line x1="488.00" y1="1361.61" x2="488.00" y2="1504.71" stroke="#000" stroke-width="2.7" /><line x1="476.00" y1="1361.61" x2="500.00" y2="1361.61" stroke="#000" stroke-width="2.7" /><line x1="476.00" y1="1504.71" x2="500.00" y2="1504.71" stroke="#000" stroke-width="2.7" /><line x1="357.50" y1="1433.16" x2="643.40" y2="1433.16" stroke="#000" stroke-width="2.7" /><line x1="357.50" y1="1426.16" x2="357.50" y2="1440.16" stroke="#000" stroke-width="2.7" /><line x1="643.40" y1="1426.16" x2="643.40" y2="1440.16" stroke="#000" stroke-width="2.7" /><rect x="481.00" y="1426.16" width="14.0" height="14.0" fill="#000"/><line x1="697.50" y1="1384.86" x2="697.50" y2="1486.82" stroke="#000" stroke-width="2.7" /><line x1="685.50" y1="1384.86" x2="709.50" y2="1384.86" stroke="#000" stroke-width="2.7" /><line x1="685.50" y1="1486.82" x2="709.50" y2="1486.82" stroke="#000" stroke-width="2.7" /><line x1="582.80" y1="1435.84" x2="866.30" y2="1435.84" stroke="#000" stroke-width="2.7" /><line x1="582.80" y1="1428.84" x2="582.80" y2="1442.84" stroke="#000" stroke-width="2.7" /><line x1="866.30" y1="1428.84" x2="866.30" y2="1442.84" stroke="#000" stroke-width="2.7" /><rect x="690.50" y="1428.84" width="14.0" height="14.0" fill="#000"/><line x1="907.40" y1="1334.78" x2="907.40" y2="1465.95" stroke="#000" stroke-width="2.7" /><line x1="895.40" y1="1334.78" x2="919.40" y2="1334.78" stroke="#000" stroke-width="2.7" /><line x1="895.40" y1="1465.95" x2="919.40" y2="1465.95" stroke="#000" stroke-width="2.7" /><line x1="760.20" y1="1400.36" x2="1055.70" y2="1400.36" stroke="#000" stroke-width="2.7" /><line x1="760.20" y1="1393.36" x2="760.20" y2="1407.36" stroke="#000" stroke-width="2.7" /><line x1="1055.70" y1="1393.36" x2="1055.70" y2="1407.36" stroke="#000" stroke-width="2.7" /><rect x="900.40" y="1393.36" width="14.0" height="14.0" fill="#000"/><line x1="1118.20" y1="1167.53" x2="1118.20" y2="1346.40" stroke="#000" stroke-width="2.7" /><line x1="1106.20" y1="1167.53" x2="1130.20" y2="1167.53" stroke="#000" stroke-width="2.7" /><line x1="1106.20" y1="1346.40" x2="1130.20" y2="1346.40" stroke="#000" stroke-width="2.7" /><line x1="971.30" y1="1256.97" x2="1275.20" y2="1256.97" stroke="#000" stroke-width="2.7" /><line x1="971.30" y1="1249.97" x2="971.30" y2="1263.97" stroke="#000" stroke-width="2.7" /><line x1="1275.20" y1="1249.97" x2="1275.20" y2="1263.97" stroke="#000" stroke-width="2.7" /><rect x="1111.20" y="1249.97" width="14.0" height="14.0" fill="#000"/><rect x="116.0" y="934.7" width="1230.5" height="745.3" fill="none" stroke="#000" stroke-width="2.2"/><line x1="116.00" y1="1650.19" x2="128.00" y2="1650.19" stroke="#000" stroke-width="2" /><line x1="1346.50" y1="1650.19" x2="1334.50" y2="1650.19" stroke="#000" stroke-width="2" /><line x1="116.00" y1="1620.38" x2="128.00" y2="1620.38" stroke="#000" stroke-width="2" /><line x1="1346.50" y1="1620.38" x2="1334.50" y2="1620.38" stroke="#000" stroke-width="2" /><line x1="116.00" y1="1590.56" x2="128.00" y2="1590.56" stroke="#000" stroke-width="2" /><line x1="1346.50" y1="1590.56" x2="1334.50" y2="1590.56" stroke="#000" stroke-width="2" /><line x1="116.00" y1="1560.75" x2="128.00" y2="1560.75" stroke="#000" stroke-width="2" /><line x1="1346.50" y1="1560.75" x2="1334.50" y2="1560.75" stroke="#000" stroke-width="2" /><line x1="116.00" y1="1530.94" x2="140.00" y2="1530.94" stroke="#000" stroke-width="2" /><line x1="1346.50" y1="1530.94" x2="1322.50" y2="1530.94" stroke="#000" stroke-width="2" /><line x1="116.00" y1="1501.13" x2="128.00" y2="1501.13" stroke="#000" stroke-width="2" /><line x1="1346.50" y1="1501.13" x2="1334.50" y2="1501.13" stroke="#000" stroke-width="2" /><line x1="116.00" y1="1471.32" x2="128.00" y2="1471.32" stroke="#000" stroke-width="2" /><line x1="1346.50" y1="1471.32" x2="1334.50" y2="1471.32" stroke="#000" stroke-width="2" /><line x1="116.00" y1="1441.50" x2="128.00" y2="1441.50" stroke="#000" stroke-width="2" /><line x1="1346.50" y1="1441.50" x2="1334.50" y2="1441.50" stroke="#000" stroke-width="2" /><line x1="116.00" y1="1411.69" x2="128.00" y2="1411.69" stroke="#000" stroke-width="2" /><line x1="1346.50" y1="1411.69" x2="1334.50" y2="1411.69" stroke="#000" stroke-width="2" /><line x1="116.00" y1="1381.88" x2="140.00" y2="1381.88" stroke="#000" stroke-width="2" /><line x1="1346.50" y1="1381.88" x2="1322.50" y2="1381.88" stroke="#000" stroke-width="2" /><line x1="116.00" y1="1352.07" x2="128.00" y2="1352.07" stroke="#000" stroke-width="2" /><line x1="1346.50" y1="1352.07" x2="1334.50" y2="1352.07" stroke="#000" stroke-width="2" /><line x1="116.00" y1="1322.26" x2="128.00" y2="1322.26" stroke="#000" stroke-width="2" /><line x1="1346.50" y1="1322.26" x2="1334.50" y2="1322.26" stroke="#000" stroke-width="2" /><line x1="116.00" y1="1292.44" x2="128.00" y2="1292.44" stroke="#000" stroke-width="2" /><line x1="1346.50" y1="1292.44" x2="1334.50" y2="1292.44" stroke="#000" stroke-width="2" /><line x1="116.00" y1="1262.63" x2="128.00" y2="1262.63" stroke="#000" stroke-width="2" /><line x1="1346.50" y1="1262.63" x2="1334.50" y2="1262.63" stroke="#000" stroke-width="2" /><line x1="116.00" y1="1232.82" x2="140.00" y2="1232.82" stroke="#000" stroke-width="2" /><line x1="1346.50" y1="1232.82" x2="1322.50" y2="1232.82" stroke="#000" stroke-width="2" /><line x1="116.00" y1="1203.01" x2="128.00" y2="1203.01" stroke="#000" stroke-width="2" /><line x1="1346.50" y1="1203.01" x2="1334.50" y2="1203.01" stroke="#000" stroke-width="2" /><line x1="116.00" y1="1173.20" x2="128.00" y2="1173.20" stroke="#000" stroke-width="2" /><line x1="1346.50" y1="1173.20" x2="1334.50" y2="1173.20" stroke="#000" stroke-width="2" /><line x1="116.00" y1="1143.38" x2="128.00" y2="1143.38" stroke="#000" stroke-width="2" /><line x1="1346.50" y1="1143.38" x2="1334.50" y2="1143.38" stroke="#000" stroke-width="2" /><line x1="116.00" y1="1113.57" x2="128.00" y2="1113.57" stroke="#000" stroke-width="2" /><line x1="1346.50" y1="1113.57" x2="1334.50" y2="1113.57" stroke="#000" stroke-width="2" /><line x1="116.00" y1="1083.76" x2="140.00" y2="1083.76" stroke="#000" stroke-width="2" /><line x1="1346.50" y1="1083.76" x2="1322.50" y2="1083.76" stroke="#000" stroke-width="2" /><line x1="116.00" y1="1053.95" x2="128.00" y2="1053.95" stroke="#000" stroke-width="2" /><line x1="1346.50" y1="1053.95" x2="1334.50" y2="1053.95" stroke="#000" stroke-width="2" /><line x1="116.00" y1="1024.14" x2="128.00" y2="1024.14" stroke="#000" stroke-width="2" /><line x1="1346.50" y1="1024.14" x2="1334.50" y2="1024.14" stroke="#000" stroke-width="2" /><line x1="116.00" y1="994.32" x2="128.00" y2="994.32" stroke="#000" stroke-width="2" /><line x1="1346.50" y1="994.32" x2="1334.50" y2="994.32" stroke="#000" stroke-width="2" /><line x1="116.00" y1="964.51" x2="128.00" y2="964.51" stroke="#000" stroke-width="2" /><line x1="1346.50" y1="964.51" x2="1334.50" y2="964.51" stroke="#000" stroke-width="2" /><line x1="272.24" y1="934.70" x2="272.24" y2="949.70" stroke="#000" stroke-width="2" /><line x1="272.24" y1="1680.00" x2="272.24" y2="1665.00" stroke="#000" stroke-width="2" /><text transform="translate(272.24,1729.20) scale(0.944,1)" font-size="41.4" text-anchor="middle" fill="#000" >0.7</text><line x1="438.70" y1="934.70" x2="438.70" y2="949.70" stroke="#000" stroke-width="2" /><line x1="438.70" y1="1680.00" x2="438.70" y2="1665.00" stroke="#000" stroke-width="2" /><text transform="translate(438.70,1729.20) scale(0.944,1)" font-size="41.4" text-anchor="middle" fill="#000" >1.0</text><line x1="762.19" y1="934.70" x2="762.19" y2="949.70" stroke="#000" stroke-width="2" /><line x1="762.19" y1="1680.00" x2="762.19" y2="1665.00" stroke="#000" stroke-width="2" /><text transform="translate(762.19,1729.20) scale(0.944,1)" font-size="41.4" text-anchor="middle" fill="#000" >2.0</text><line x1="951.41" y1="934.70" x2="951.41" y2="949.70" stroke="#000" stroke-width="2" /><line x1="951.41" y1="1680.00" x2="951.41" y2="1665.00" stroke="#000" stroke-width="2" /><text transform="translate(951.41,1729.20) scale(0.944,1)" font-size="41.4" text-anchor="middle" fill="#000" >3.0</text><line x1="1085.67" y1="934.70" x2="1085.67" y2="949.70" stroke="#000" stroke-width="2" /><line x1="1085.67" y1="1680.00" x2="1085.67" y2="1665.00" stroke="#000" stroke-width="2" /><text transform="translate(1085.67,1729.20) scale(0.944,1)" font-size="41.4" text-anchor="middle" fill="#000" >4.0</text><line x1="1189.81" y1="934.70" x2="1189.81" y2="949.70" stroke="#000" stroke-width="2" /><line x1="1189.81" y1="1680.00" x2="1189.81" y2="1665.00" stroke="#000" stroke-width="2" /><text transform="translate(1189.81,1729.20) scale(0.944,1)" font-size="41.4" text-anchor="middle" fill="#000" >5.0</text><line x1="1274.90" y1="934.70" x2="1274.90" y2="949.70" stroke="#000" stroke-width="2" /><line x1="1274.90" y1="1680.00" x2="1274.90" y2="1665.00" stroke="#000" stroke-width="2" /><text transform="translate(1274.90,1729.20) scale(0.944,1)" font-size="41.4" text-anchor="middle" fill="#000" >6.0</text><text transform="translate(105.40,1681.20) scale(0.944,1)" font-size="41.4" text-anchor="end" fill="#000" >65</text><text transform="translate(105.40,1545.74) scale(0.944,1)" font-size="41.4" text-anchor="end" fill="#000" >70</text><text transform="translate(105.40,1396.68) scale(0.944,1)" font-size="41.4" text-anchor="end" fill="#000" >75</text><text transform="translate(105.40,1247.62) scale(0.944,1)" font-size="41.4" text-anchor="end" fill="#000" >80</text><text transform="translate(105.40,1098.56) scale(0.944,1)" font-size="41.4" text-anchor="end" fill="#000" >85</text><text transform="translate(105.40,957.90) scale(0.944,1)" font-size="41.4" text-anchor="end" fill="#000" >90</text><text transform="translate(731.00,1771.00)" font-size="38.8" text-anchor="middle" fill="#000" >Energy (keV)</text><text transform="translate(32.00,1307.60) rotate(-90)" font-size="38.8" text-anchor="middle" fill="#000" >Radius (deg)</text><rect x="160.3" y="964.2" width="317.7" height="218.20000000000005" fill="#fff" stroke="#000" stroke-width="2"/><rect x="484.0" y="964.2" width="286.20000000000005" height="83.89999999999986" fill="#fff" stroke="#000" stroke-width="2"/><line x1="191.60" y1="990.00" x2="204.50" y2="990.00" stroke="#0000ff" stroke-width="2.2" /><line x1="216.20" y1="990.00" x2="229.00" y2="990.00" stroke="#0000ff" stroke-width="2.2" /><text x="254.50" y="997.60" font-size="33.8" fill="#000">|B<tspan font-size="22.4" dy="7.9">∞</tspan><tspan dy="-7.9">| = 2.00 <tspan font-family="Liberation Serif, serif">μ</tspan>G</tspan></text><line x1="191.60" y1="1023.55" x2="204.50" y2="1023.55" stroke="#ff0000" stroke-width="2.2" /><line x1="216.20" y1="1023.55" x2="229.00" y2="1023.55" stroke="#ff0000" stroke-width="2.2" /><text x="254.50" y="1031.15" font-size="33.8" fill="#000">|B<tspan font-size="22.4" dy="7.9">∞</tspan><tspan dy="-7.9">| = 2.50 <tspan font-family="Liberation Serif, serif">μ</tspan>G</tspan></text><line x1="191.60" y1="1057.10" x2="204.50" y2="1057.10" stroke="#228b22" stroke-width="2.2" /><line x1="216.20" y1="1057.10" x2="229.00" y2="1057.10" stroke="#228b22" stroke-width="2.2" /><text x="254.50" y="1064.70" font-size="33.8" fill="#000">|B<tspan font-size="22.4" dy="7.9">∞</tspan><tspan dy="-7.9">| = 2.75 <tspan font-family="Liberation Serif, serif">μ</tspan>G</tspan></text><line x1="191.60" y1="1090.65" x2="204.50" y2="1090.65" stroke="#00ffff" stroke-width="2.2" /><line x1="216.20" y1="1090.65" x2="229.00" y2="1090.65" stroke="#00ffff" stroke-width="2.2" /><text x="254.50" y="1098.25" font-size="33.8" fill="#000">|B<tspan font-size="22.4" dy="7.9">∞</tspan><tspan dy="-7.9">| = 3.00 <tspan font-family="Liberation Serif, serif">μ</tspan>G</tspan></text><line x1="191.60" y1="1124.20" x2="204.50" y2="1124.20" stroke="#ff00ff" stroke-width="2.2" /><line x1="216.20" y1="1124.20" x2="229.00" y2="1124.20" stroke="#ff00ff" stroke-width="2.2" /><text x="254.50" y="1131.80" font-size="33.8" fill="#000">|B<tspan font-size="22.4" dy="7.9">∞</tspan><tspan dy="-7.9">| = 3.50 <tspan font-family="Liberation Serif, serif">μ</tspan>G</tspan></text><line x1="191.60" y1="1157.75" x2="204.50" y2="1157.75" stroke="#ffa500" stroke-width="2.2" /><line x1="216.20" y1="1157.75" x2="229.00" y2="1157.75" stroke="#ffa500" stroke-width="2.2" /><text x="254.50" y="1165.35" font-size="33.8" fill="#000">|B<tspan font-size="22.4" dy="7.9">∞</tspan><tspan dy="-7.9">| = 4.00 <tspan font-family="Liberation Serif, serif">μ</tspan>G</tspan></text><line x1="515.00" y1="990.30" x2="556.80" y2="990.30" stroke="#000" stroke-width="2.2" /><line x1="515.00" y1="1023.70" x2="527.80" y2="1023.70" stroke="#000" stroke-width="2.2" /><line x1="539.50" y1="1023.70" x2="552.30" y2="1023.70" stroke="#000" stroke-width="2.2" /><text transform="translate(577.60,997.80)" font-size="33.65" text-anchor="start" fill="#000" >Observation</text><text transform="translate(577.60,1031.30)" font-size="33.65" text-anchor="start" fill="#000" >Simulation</text>
</svg>
</body></html>
